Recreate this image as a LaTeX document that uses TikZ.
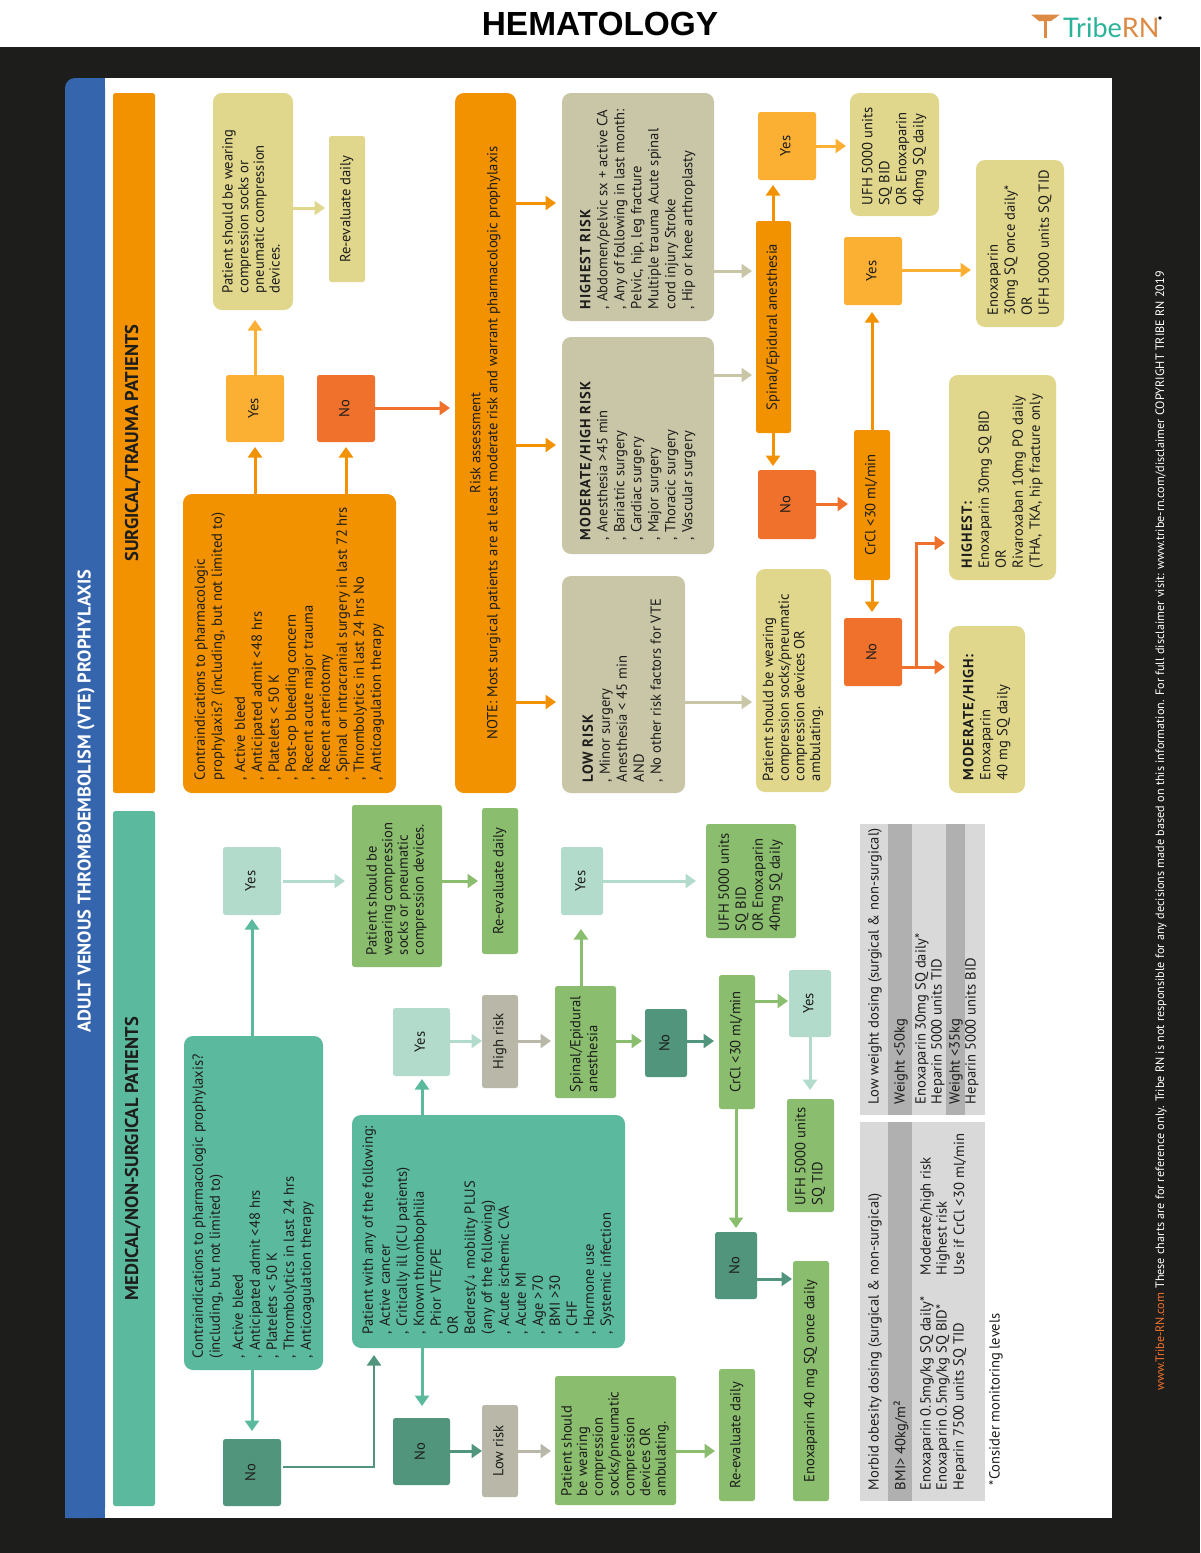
\documentclass[tikz,border=0pt]{standalone}
\usepackage{fontspec}
\setmainfont{PT Sans}
\newfontfamily\libfont{Liberation Sans}
\newfontfamily\djvfont{DejaVu Sans}
\newfontfamily\latofont{Lato}
\usetikzlibrary{arrows.meta,calc}
\definecolor{cDark}{HTML}{1D1D1B}
\definecolor{cBlue}{HTML}{3565AC}
\definecolor{cOr}{HTML}{F39200}
\definecolor{cYes}{HTML}{FBB034}
\definecolor{cNo}{HTML}{F0712B}
\definecolor{cYel}{HTML}{E0D78C}
\definecolor{cBei}{HTML}{C9C5A7}
\definecolor{cTeal}{HTML}{5BBA9D}
\definecolor{cGrn}{HTML}{8ABD6E}
\definecolor{cLt}{HTML}{B2DBCB}
\definecolor{cDt}{HTML}{52957D}
\definecolor{cGr}{HTML}{B9B8A8}
\definecolor{cTa}{HTML}{D9D9D9}
\definecolor{cTb}{HTML}{B0B0B0}
\definecolor{cLogoO}{HTML}{DD8A45}
\definecolor{cLogoT}{HTML}{2BB39A}
\tikzset{
  base/.style={rotate=90,inner sep=0pt,outer sep=0pt,text=cDark,font=\fontsize{14.6}{17}\selectfont},
  tight/.style={font=\fontsize{14.6}{15.7}\selectfont},
  rnd/.style={rounded corners=9pt},
  sq/.style={rounded corners=2.5pt},
  arr/.style={-{Triangle[width=14pt,length=10.5pt]},line width=3pt},
  thn/.style={-{Triangle[width=14pt,length=10.5pt]},line width=2.2pt},
  lbl/.style={rotate=90,anchor=west,inner sep=0pt,outer sep=0pt,text=cDark,font=\fontsize{14.6}{17}\selectfont},
  hd/.style={font=\fontsize{18.5}{20}\selectfont\bfseries}
}
\newcommand{\hdg}[1]{{\bfseries\addfontfeature{LetterSpace=7}#1}}
% name, style, x1, y1, x2, y2, margin, text (left aligned)
\newcommand{\bxl}[8]{%
  \pgfmathsetmacro\myW{#6-#4}\pgfmathsetmacro\myH{#5-#3}%
  \pgfmathsetmacro\myT{#6-#4-2*#7}%
  \node[base,#2,minimum width=\myW pt,minimum height=\myH pt] (#1) at ({(#3+#5)/2},{(#4+#6)/2})
    {\makebox[\myT pt][l]{\raisebox{-1pt}{\begin{tabular}[c]{@{}l@{}}#8\end{tabular}}}};}
% name, style, x1, y1, x2, y2, text (centred)
\newcommand{\bxc}[7]{%
  \pgfmathsetmacro\myW{#6-#4}\pgfmathsetmacro\myH{#5-#3}%
  \node[base,#2,minimum width=\myW pt,minimum height=\myH pt] (#1) at ({(#3+#5)/2},{(#4+#6)/2})
    {\raisebox{-1pt}{\begin{tabular}[c]{@{}c@{}}#7\end{tabular}}};}
% horizontal arrow at height y, from right side of a to left side of b
\newcommand{\hA}[4]{\draw[#1] (#2.south |- 0,#4) -- (#3.north |- 0,#4);}
% vertical arrows at abscissa x: going up / going down in the image
\newcommand{\vU}[4]{\draw[#1] (#4,0 |- #2.east) -- (#4,0 |- #3.west);}
\newcommand{\vD}[4]{\draw[#1] (#4,0 |- #2.west) -- (#4,0 |- #3.east);}
\begin{document}
\begin{tikzpicture}[x=1pt,y=-1pt]
\useasboundingbox (0,0) rectangle (1200,1553);
\fill[white] (0,0) rectangle (1200,47);
\fill[cDark] (0,47) rectangle (1200,1553);
\fill[white] (100,78) rectangle (1112,1518);
\fill[cBlue,rounded corners=10pt] (65,1518) -- (65,78) -- (105,78) -- (105,1518) [sharp corners] -- cycle;
\fill[cBlue] (65,1500) rectangle (105,1518);
\fill[cBlue] (90,78) rectangle (105,1518);
% title and logo
\node[inner sep=0pt,font=\fontsize{33.4}{36}\libfont\bfseries,text=black] (title) at (600,24) {HEMATOLOGY};
\node[inner sep=0pt,anchor=west,font=\fontsize{27}{30}\latofont] (logo) at (1063,28) {\textcolor{cLogoT}{Tribe}\textcolor{cLogoO}{RN}};
\draw[cLogoO,line width=3pt] (1045,19) -- (1045,38);
\fill[cLogoO] (1031,14.5) -- (1060,14.5) -- (1051,21) -- (1039,21) -- cycle;
\fill[black] (1160,18) circle (1.8pt);
% footer
\node[rotate=90,anchor=west,inner sep=0pt,text=white,font=\fontsize{12.18}{13}\selectfont] (foot) at (1161,1391)
 {\textcolor{cNo}{www.Tribe-RN.com}\hspace{4pt}These charts are for reference only. Tribe RN is not responsible for any decisions made based on this information. For full disclaimer visit: www.tribe-rn.com/disclaimer COPYRIGHT TRIBE RN 2019};
\node[rotate=90,inner sep=0pt,text=white,font=\fontsize{18.4}{20}\selectfont\bfseries] (band) at (86,801) {ADULT VENOUS THROMBOEMBOLISM (VTE) PROPHYLAXIS};

% ---------- SURGICAL ----------
\bxc{sHead}{hd,fill=cOr,sq}{113}{93}{155}{793}{SURGICAL/TRAUMA PATIENTS}
\bxl{sWear}{tight,fill=cYel,rnd}{213}{93}{293}{310}{17}{Patient should be wearing\\compression socks or\\pneumatic compression\\devices.}
\bxc{sRe}{fill=cYel,sq}{329}{136}{365}{282}{Re-evaluate daily}
\bxc{sYes}{fill=cYes,sq}{226}{375}{284}{442}{Yes}
\bxc{sNo}{fill=cNo,sq}{317}{375}{375}{442}{No}
\bxl{sContra}{fill=cOr,rnd}{183}{494}{396}{793}{13}{Contraindications to pharmacologic\\prophylaxis? (including, but not limited to)\\[6pt], Active bleed\\, Anticipated admit <48 hrs\\, Platelets < 50 K\\, Post-op bleeding concern\\, Recent acute major trauma\\, Recent arteriotomy\\, Spinal or intracranial surgery in last 72 hrs\\, Thrombolytics in last 24 hrs No\\, Anticoagulation therapy}
\bxc{sRisk}{fill=cOr,rnd}{455}{93}{516}{793}{Risk assessment\\NOTE: Most surgical patients are at least moderate risk and warrant pharmacologic prophylaxis}
\bxl{sHigh}{fill=cBei,rnd}{562}{93}{714}{321}{12}{\hdg{HIGHEST RISK}\\, Abdomen/pelvic sx + active CA\\, Any of following in last month:\\Pelvic, hip, leg fracture\\Multiple trauma Acute spinal\\cord injury Stroke\\, Hip or knee arthroplasty}
\bxl{sMod}{fill=cBei,rnd}{562}{337}{714}{554}{14}{\hdg{MODERATE/HIGH RISK}\\, Anesthesia >45 min\\, Bariatric surgery\\, Cardiac surgery\\, Major surgery\\, Thoracic surgery\\, Vascular surgery}
\bxl{sLow}{fill=cBei,rnd}{562}{576}{685}{793}{11}{\hdg{LOW RISK}\\, Minor surgery\\Anesthesia < 45 min\\AND\\, No other risk factors for VTE}
\bxc{sSpin}{fill=cOr,sq}{756}{221}{791}{433}{Spinal/Epidural anesthesia}
\bxc{sYes2}{fill=cYes,sq}{758}{112}{816}{180}{Yes}
\bxc{sNo2}{fill=cNo,sq}{758}{470}{816}{539}{No}
\bxl{sUfh}{fill=cYel,rnd}{850}{93}{939}{216}{11}{UFH 5000 units\\SQ BID\\OR Enoxaparin\\40mg SQ daily}
\bxc{sYes3}{fill=cYes,sq}{844}{237}{902}{305}{Yes}
\bxl{sEnox}{fill=cYel,rnd}{976}{160}{1064}{327}{12}{Enoxaparin\\30mg SQ once daily*\\OR\\UFH 5000 units SQ TID}
\bxc{sCrcl}{fill=cOr,sq}{854}{430}{890}{580}{CrCl <30 ml/min}
\bxc{sNo3}{fill=cNo,sq}{844}{618}{902}{686}{No}
\bxl{sHighest}{fill=cYel,rnd}{949}{375}{1056}{580}{12}{\hdg{HIGHEST:}\\Enoxaparin 30mg SQ BID\\OR\\Rivaroxaban 10mg PO daily\\(THA, TKA, hip fracture only}
\bxl{sModHi}{fill=cYel,rnd}{949}{626}{1025}{793}{13}{\hdg{MODERATE/HIGH:}\\Enoxaparin\\40 mg SQ daily}
\bxl{sPat}{tight,fill=cYel,rnd}{756}{569}{831}{792}{11}{Patient should be wearing\\compression socks/pneumatic\\compression devices OR\\ambulating.}

\vU{arr,cOr,shorten >=5pt}{sContra}{sYes}{255}
\vU{arr,cOr,shorten >=5pt}{sContra}{sNo}{346}
\vU{arr,cYes,shorten >=10pt}{sYes}{sWear}{255}
\hA{arr,cYel,shorten >=4pt}{sWear}{sRe}{208}
\hA{arr,cNo,shorten >=5pt}{sNo}{sRisk}{408}
\hA{arr,cOr,shorten >=6pt}{sRisk}{sLow}{702}
\hA{arr,cOr,shorten >=6pt}{sRisk}{sMod}{445}
\hA{arr,cOr,shorten >=6pt}{sRisk}{sHigh}{203}
\hA{arr,cBei,shorten >=4pt}{sLow}{sPat}{702}
\hA{arr,cBei,shorten >=4pt}{sMod}{sSpin}{375}
\hA{arr,cBei,shorten >=4pt}{sHigh}{sSpin}{271}
\vU{arr,cOr,shorten >=5pt}{sSpin}{sYes2}{773}
\vD{arr,cOr,shorten >=4pt}{sSpin}{sNo2}{773}
\hA{arr,cYes,shorten >=4pt}{sYes2}{sUfh}{146}
\hA{arr,cNo,shorten >=6pt}{sNo2}{sCrcl}{504}
\vU{arr,cOr,shorten >=7pt}{sCrcl}{sYes3}{872}
\vD{arr,cOr,shorten >=6pt}{sCrcl}{sNo3}{872}
\hA{arr,cYes,shorten >=5pt}{sYes3}{sEnox}{270}
\hA{arr,cNo,shorten >=4pt}{sNo3}{sModHi}{667}
\coordinate (sBranch) at (916,667);
\draw[arr,cNo,shorten >=4pt] (sBranch) |- (sHighest.north |- 0,543);

% ---------- MEDICAL ----------
\bxc{mHead}{hd,fill=cTeal,sq}{113}{811}{155}{1506}{MEDICAL/NON-SURGICAL PATIENTS}
\bxc{mYes}{fill=cLt,sq}{223}{847}{281}{915}{Yes}
\bxc{mNo}{fill=cDt,sq}{223}{1439}{281}{1506}{No}
\bxl{mContra}{fill=cTeal,rnd}{184}{1036}{323}{1370}{12}{Contraindications to pharmacologic prophylaxis?\\(including, but not limited to)\\[6pt], Active bleed\\, Anticipated admit <48 hrs\\, Platelets < 50 K\\, Thrombolytics in last 24 hrs\\, Anticoagulation therapy}
\bxl{mWear}{tight,fill=cGrn,sq}{352}{805}{442}{967}{12}{Patient should be\\wearing compression\\socks or pneumatic\\compression devices.}
\bxc{mRe}{fill=cGrn,sq}{482}{808}{518}{954}{Re-evaluate daily}
\bxc{mYes2}{fill=cLt,sq}{393}{1008}{450}{1076}{Yes}
\bxc{mHigh}{fill=cGr,sq}{482}{995}{518}{1088}{High risk}
\bxl{mSpin}{fill=cGrn,sq}{555}{986}{616}{1098}{6}{Spinal/Epidural\\anesthesia}
\bxc{mYes3}{fill=cLt,sq}{561}{847}{603}{915}{Yes}
\bxl{mUfh}{fill=cGrn,sq}{706}{824}{796}{938}{7}{UFH 5000 units\\SQ BID\\OR Enoxaparin\\40mg SQ daily}
\bxl{mPat}{fill=cTeal,rnd}{352}{1115}{625}{1348}{14}{Patient with any of the following:\\, Active cancer\\, Critically ill (ICU patients)\\, Known thrombophilia\\, Prior VTE/PE\\OR\\Bedrest/{\djvfont\fontsize{10}{10}\selectfont↓} mobility PLUS\\(any of the following)\\, Acute ischemic CVA\\, Acute MI\\, Age >70\\, BMI >30\\, CHF\\, Hormone use\\, Systemic infection}
\bxc{mNo2}{fill=cDt,sq}{393}{1418}{450}{1485}{No}
\bxc{mLow}{fill=cGr,sq}{482}{1405}{518}{1497}{Low risk}
\bxl{mPat2}{tight,fill=cGrn,sq}{555}{1376}{676}{1505}{9}{Patient should\\be wearing\\compression\\socks/pneumatic\\compression\\devices OR\\ambulating.}
\bxc{mNo3}{fill=cDt,sq}{645}{1009}{687}{1077}{No}
\bxc{mCrcl}{fill=cGrn,sq}{719}{975}{755}{1109}{CrCl <30 ml/min}
\bxc{mYes4}{fill=cLt,sq}{789}{970}{831}{1037}{Yes}
\bxl{mUfh2}{fill=cGrn,sq}{787}{1099}{834}{1212}{7}{UFH 5000 units\\SQ TID}
\bxc{mNo4}{fill=cDt,sq}{715}{1232}{757}{1299}{No}
\bxc{mEnox}{fill=cGrn,sq}{793}{1261}{829}{1501}{Enoxaparin 40 mg SQ once daily}
\bxc{mRe2}{fill=cGrn,sq}{719}{1369}{755}{1501}{Re-evaluate daily}

\vU{arr,cTeal,shorten >=4pt}{mContra}{mYes}{252}
\vD{arr,cTeal,shorten >=8pt}{mContra}{mNo}{252}
\hA{arr,cLt,shorten >=7pt,shorten <=2pt}{mYes}{mWear}{881}
\hA{arr,cGrn,shorten >=4pt}{mWear}{mRe}{881}
\coordinate (mNoOut) at (283,1467);
\draw[thn,cDt,shorten >=7pt] (mNoOut) -| (mPat.west -| 374,0);
\vU{arr,cTeal,shorten >=3pt}{mPat}{mYes2}{422}
\vD{arr,cTeal,shorten >=12pt}{mPat}{mNo2}{422}
\hA{arr,cLt}{mYes2}{mHigh}{1041}
\hA{arr,cGr,shorten >=4pt}{mHigh}{mSpin}{1041}
\hA{arr,cGrn,shorten >=3pt}{mSpin}{mNo3}{1041}
\vU{arr,cGrn,shorten >=14pt}{mSpin}{mYes3}{581}
\hA{arr,cLt,shorten >=10pt}{mYes3}{mUfh}{881}
\hA{arr,cDt}{mNo2}{mLow}{1451}
\hA{arr,cGr,shorten >=4pt}{mLow}{mPat2}{1451}
\hA{arr,cGrn,shorten >=4pt}{mPat2}{mRe2}{1451}
\hA{arr,cDt,shorten >=5pt}{mNo3}{mCrcl}{1041}
\hA{arr,cGrn,shorten >=1pt}{mCrcl}{mYes4}{1001}
\vD{arr,cLt,shorten >=9pt}{mYes4}{mUfh2}{810}
\vD{arr,cGrn,shorten >=4pt}{mCrcl}{mNo4}{736}
\hA{arr,cDt,shorten >=1pt}{mNo4}{mEnox}{1279}

% ---------- TABLES ----------
\fill[cTa] (860,824) rectangle (985,1115);
\fill[cTa] (860,1122) rectangle (985,1501);
\fill[cTb] (888,824) rectangle (912,1115);
\fill[cTb] (888,1122) rectangle (912,1501);
\fill[cTb] (946,824) rectangle (965,1115);
\node[lbl] (t1) at (875,1104) {Low weight dosing (surgical \& non-surgical)};
\node[lbl] (t2) at (901,1104) {Weight <50kg};
\node[lbl] (t3) at (922,1104) {Enoxaparin 30mg SQ daily*};
\node[lbl] (t4) at (938,1104) {Heparin 5000 units TID};
\node[lbl] (t5) at (956,1104) {Weight <35kg};
\node[lbl] (t6) at (972,1104) {Heparin 5000 units BID};
\node[lbl] (u1) at (875,1490) {Morbid obesity dosing (surgical \& non-surgical)};
\node[lbl] (u2) at (901,1490) {BMI> 40kg/m²};
\node[lbl] (u3) at (927,1490) {Enoxaparin 0.5mg/kg SQ daily*};
\node[lbl] (u4) at (943,1490) {Enoxaparin 0.5mg/kg SQ BID*};
\node[lbl] (u5) at (960,1490) {Heparin 7500 units SQ TID};
\node[lbl] (u6) at (927,1275) {Moderate/high risk};
\node[lbl] (u7) at (943,1275) {Highest risk};
\node[lbl] (u8) at (960,1275) {Use if CrCl <30 ml/min};
\node[lbl] (u9) at (996,1485) {*Consider monitoring levels};
\end{tikzpicture}
\end{document}
